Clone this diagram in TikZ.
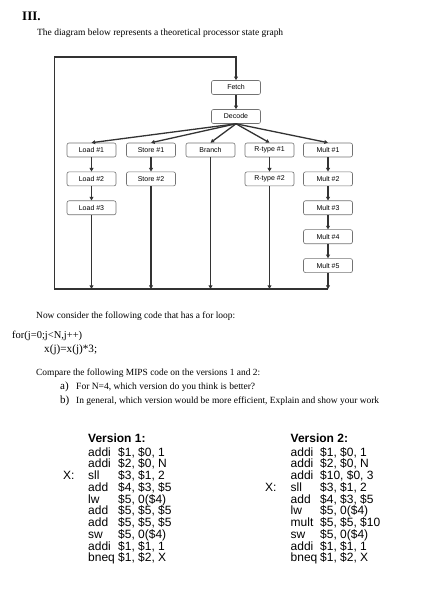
\documentclass[tikz,border=0pt]{standalone}
\usepackage{fontspec}
\setmainfont{Liberation Serif}
\setsansfont{Liberation Sans}
\usetikzlibrary{arrows.meta}
\newcommand{\fitw}[2]{\resizebox{#1pt}{!}{#2}}
\begin{document}
\begin{tikzpicture}[x=1pt,y=-1pt,
 box/.style={draw=black!55, line width=0.6pt, rounded corners=2pt, fill=white, minimum width=49pt, minimum height=14pt, inner sep=0pt, font=\sffamily\fontsize{7}{8}\selectfont},
 flow/.style={draw=black!80, line width=1.3pt, -{Triangle[length=3.6pt,width=3.8pt]}},
 txt/.style={anchor=base west, inner sep=0pt},
 code/.style={anchor=base west, inner sep=0pt, font=\sffamily\fontsize{12}{13}\selectfont},
 codeb/.style={code, font=\sffamily\bfseries\fontsize{12}{13}\selectfont},
]
\useasboundingbox (0,0) rectangle (446,601);

% header texts
\node[txt, font=\bfseries\fontsize{13}{15}\selectfont] (hdr) at (22,21) {III.};
\node[txt] (intro) at (37,36) {\fitw{246}{The diagram below represents a theoretical processor state graph}};

% state graph
\node[box] (fetch) at (236,87.5) {Fetch};
\node[box] (decode) at (236,116.5) {Decode};
\node[box] (load1) at (91.5,150) {Load \#1};
\node[box] (load2) at (91.5,178.9) {Load \#2};
\node[box] (load3) at (91.5,207.8) {Load \#3};
\node[box] (store1) at (151,150) {Store \#1};
\node[box] (store2) at (151,178.9) {Store \#2};
\node[box] (branch) at (210.5,150) {Branch};
\node[box] (rtype1) at (269.5,150) {R-type \#1};
\node[box] (rtype2) at (269.5,178.9) {R-type \#2};
\node[box] (mult1) at (328,150) {Mult \#1};
\node[box] (mult2) at (328,178.9) {Mult \#2};
\node[box] (mult3) at (328,207.8) {Mult \#3};
\node[box] (mult4) at (328,236.7) {Mult \#4};
\node[box] (mult5) at (328,265.6) {Mult \#5};

\coordinate (b1) at (91.5,289);
\coordinate (b2) at (151,289);
\coordinate (b3) at (210.5,289);
\coordinate (b4) at (269.5,289);
\coordinate (b5) at (328,289);
\coordinate (bl) at (54.5,289);
\coordinate (tl) at (54.5,57);

\draw[flow] (fetch) -- (decode);
\foreach \t in {load1,store1,branch,rtype1,mult1}
  \draw[flow] (decode.south) -- (\t.north);
\draw[flow] (load1) -- (load2);
\draw[flow] (load2) -- (load3);
\draw[flow] (store1) -- (store2);
\draw[flow] (rtype1) -- (rtype2);
\draw[flow] (mult1) -- (mult2);
\draw[flow] (mult2) -- (mult3);
\draw[flow] (mult3) -- (mult4);
\draw[flow] (mult4) -- (mult5);
\draw[flow] (load3) -- (b1);
\draw[flow] (store2) -- (b2);
\draw[flow] (branch) -- (b3);
\draw[flow] (rtype2) -- (b4);
\draw[flow] (mult5) -- (b5);
\draw[flow] (b5) -- (bl) -- (tl) -| (fetch.north);

% question texts
\node[txt] (now) at (36,318) {\fitw{199}{Now consider the following code that has a for loop:}};
\node[txt] (forl) at (12,338) {\fitw{70}{for(j=0;j<N,j++)}};
\node[txt] (body) at (44,352) {\fitw{53}{x(j)=x(j)*3;}};
\node[txt] (cmp) at (36,375) {\fitw{224}{Compare the following MIPS code on the versions 1 and 2:}};
\node[txt, font=\fontsize{11}{12}\selectfont] (qa) at (60,389) {a)};
\node[txt] (qat) at (76,389) {\fitw{179}{For N=4, which version do you think is better?}};
\node[txt, font=\fontsize{11}{12}\selectfont] (qb) at (60,403) {b)};
\node[txt] (qbt) at (76,403) {\fitw{303}{In general, which version would be more efficient, Explain and show your work}};

% Version 1
\node[codeb] (v1t) at (88,442) {Version 1:};
\node[code] (v1m0) at (88,456) {addi};   \node[code] (v1o0) at (118,456) {\$1, \$0, 1};
\node[code] (v1m1) at (88,467.75) {addi}; \node[code] (v1o1) at (118,467.75) {\$2, \$0, N};
\node[code] (v1m2) at (88,479.5) {sll};   \node[code] (v1o2) at (118,479.5) {\$3, \$1, 2};
\node[code] (v1m3) at (88,491.25) {add};  \node[code] (v1o3) at (118,491.25) {\$4, \$3, \$5};
\node[code] (v1m4) at (88,503) {lw};      \node[code] (v1o4) at (118,503) {\$5, 0(\$4)};
\node[code] (v1m5) at (88,514.75) {add};  \node[code] (v1o5) at (118,514.75) {\$5, \$5, \$5};
\node[code] (v1m6) at (88,526.5) {add};   \node[code] (v1o6) at (118,526.5) {\$5, \$5, \$5};
\node[code] (v1m7) at (88,538.25) {sw};   \node[code] (v1o7) at (118,538.25) {\$5, 0(\$4)};
\node[code] (v1m8) at (88,550) {addi};    \node[code] (v1o8) at (118,550) {\$1, \$1, 1};
\node[code] (v1m9) at (88,561.75) {bneq}; \node[code] (v1o9) at (118,561.75) {\$1, \$2, X};
\node[code] (v1x) at (63,479.5) {X:};

% Version 2
\node[codeb] (v2t) at (290.5,442) {Version 2:};
\node[code] (v2m0) at (290.5,456) {addi};   \node[code] (v2o0) at (320,456) {\$1, \$0, 1};
\node[code] (v2m1) at (290.5,467.75) {addi}; \node[code] (v2o1) at (320,467.75) {\$2, \$0, N};
\node[code] (v2m2) at (290.5,479.5) {addi};  \node[code] (v2o2) at (320,479.5) {\$10, \$0, 3};
\node[code] (v2m3) at (290.5,491.25) {sll};  \node[code] (v2o3) at (320,491.25) {\$3, \$1, 2};
\node[code] (v2m4) at (290.5,503) {add};     \node[code] (v2o4) at (320,503) {\$4, \$3, \$5};
\node[code] (v2m5) at (290.5,514.75) {lw};   \node[code] (v2o5) at (320,514.75) {\$5, 0(\$4)};
\node[code] (v2m6) at (290.5,526.5) {mult};  \node[code] (v2o6) at (320,526.5) {\$5, \$5, \$10};
\node[code] (v2m7) at (290.5,538.25) {sw};   \node[code] (v2o7) at (320,538.25) {\$5, 0(\$4)};
\node[code] (v2m8) at (290.5,550) {addi};    \node[code] (v2o8) at (320,550) {\$1, \$1, 1};
\node[code] (v2m9) at (290.5,561.75) {bneq}; \node[code] (v2o9) at (320,561.75) {\$1, \$2, X};
\node[code] (v2x) at (265,491.25) {X:};
\end{tikzpicture}
\end{document}
